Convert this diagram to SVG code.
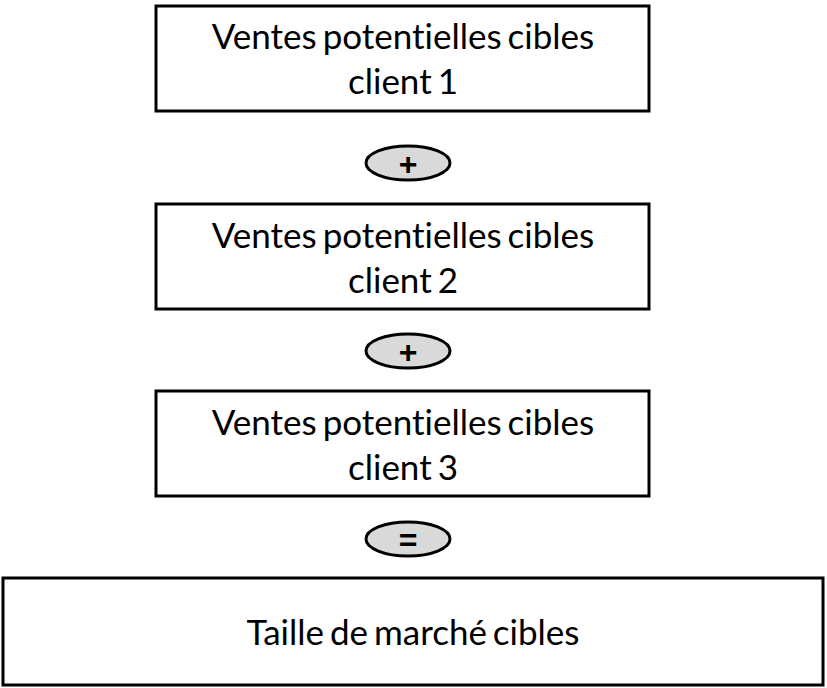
<svg xmlns="http://www.w3.org/2000/svg" width="827" height="688" viewBox="0 0 827 688">
<style>
.box{fill:#fff;stroke:#000;stroke-width:3}
.op{fill:#d9d9d9;stroke:#000;stroke-width:3}
.t{font-family:Lato,"Open Sans","Liberation Sans",sans-serif;font-size:35px;fill:#000;text-anchor:middle;font-variant-ligatures:none;word-spacing:-3px}
.o{font-family:"Liberation Sans",Arial,sans-serif;font-size:32px;font-weight:bold;fill:#000;text-anchor:middle}
</style>
<rect width="827" height="688" fill="#fff"/>
<g id="client1">
<rect class="box" x="156" y="6" width="493" height="105"/>
<text class="t" x="403" y="49">Ventes potentielles cibles</text>
<text class="t" x="403" y="94">client 1</text>
</g>
<g id="client2">
<rect class="box" x="156" y="204" width="493" height="105"/>
<text class="t" x="403" y="248">Ventes potentielles cibles</text>
<text class="t" x="403" y="293">client 2</text>
</g>
<g id="client3">
<rect class="box" x="156" y="391" width="493" height="105"/>
<text class="t" x="403" y="435">Ventes potentielles cibles</text>
<text class="t" x="403" y="480">client 3</text>
</g>
<g id="total">
<rect class="box" x="3" y="578" width="820" height="107"/>
<text class="t" x="413" y="645">Taille de marché cibles</text>
</g>
<g id="connectors">
<g id="plus1"><ellipse class="op" cx="408" cy="163" rx="42" ry="17"/><text class="o" x="408" y="175">+</text></g>
<g id="plus2"><ellipse class="op" cx="408" cy="351" rx="42" ry="17"/><text class="o" x="408" y="363">+</text></g>
<g id="equals"><ellipse class="op" cx="408" cy="539" rx="42" ry="17"/><text class="o" x="408" y="551">=</text></g>
</g>
</svg>
